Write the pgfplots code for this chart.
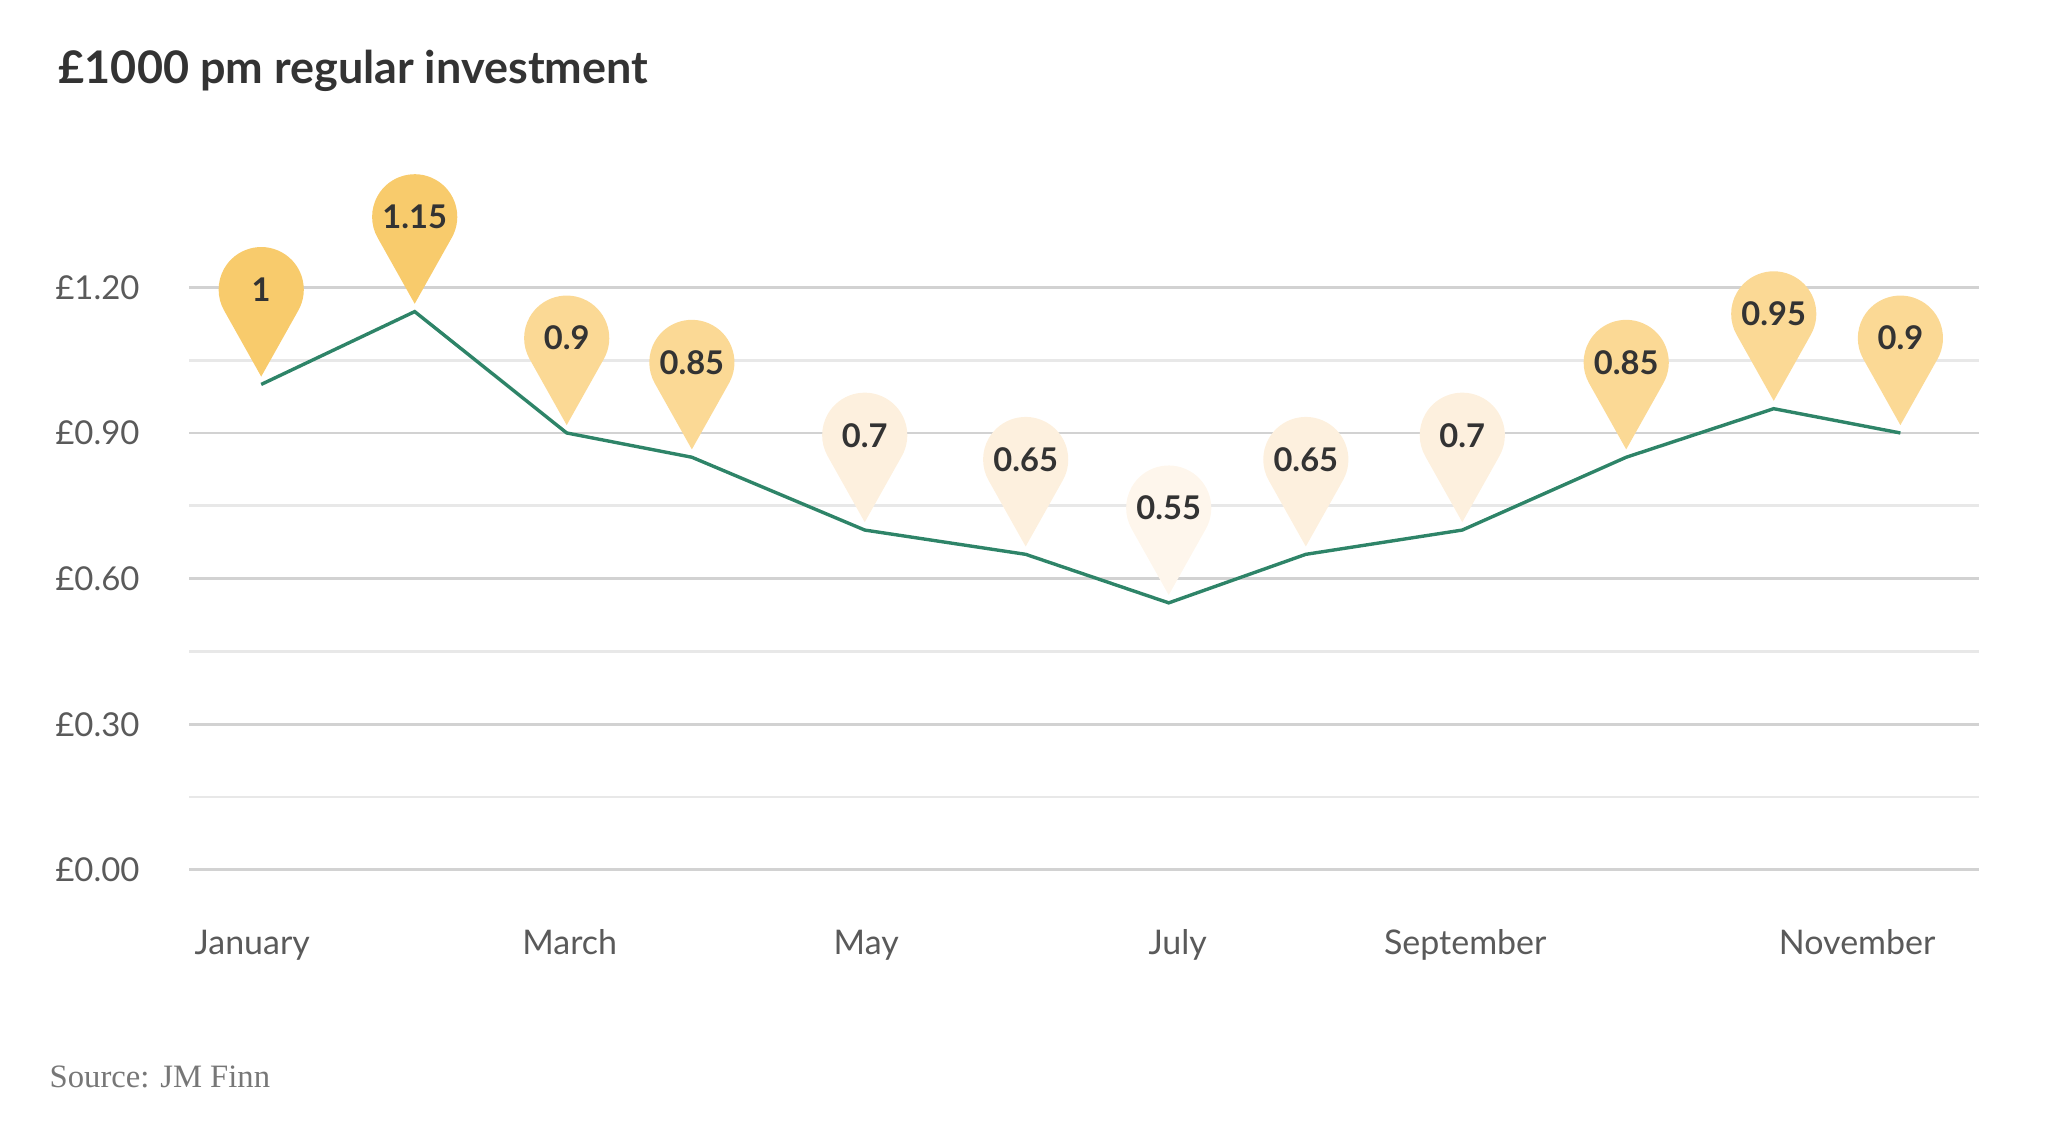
\documentclass[border=0pt]{standalone}
\usepackage{pgfplots}
\usepackage{pgfplotstable}
\pgfplotsset{compat=1.18}
\usepackage{fontspec}
\setmainfont{Lato}
\newfontfamily\srcfont{Liberation Serif}

\definecolor{pinA}{HTML}{F8CB6C}
\definecolor{pinB}{HTML}{FBD995}
\definecolor{pinC}{HTML}{FDF0DE}
\definecolor{pinD}{HTML}{FEF6EC}
\definecolor{linegreen}{HTML}{2E8468}
\definecolor{gridmaj}{HTML}{D2D2D2}
\definecolor{gridmin}{HTML}{E8E8E8}
\definecolor{titlegray}{HTML}{333333}
\definecolor{tickgray}{HTML}{5A5A5A}
\definecolor{labtext}{HTML}{333333}
\definecolor{srcgray}{HTML}{777777}

% teardrop pin, tip just above the data point
\pgfdeclareplotmark{pin}{%
  \pgfpathmoveto{\pgfpoint{0pt}{3pt}}%
  \pgfpathlineto{\pgfpointadd{\pgfpoint{0pt}{36.3pt}}{\pgfpointpolar{-29.2}{16.3pt}}}%
  \pgfpatharc{-29.2}{209.2}{16.3pt}%
  \pgfpathclose
  \pgfusepathqfill}

\pgfplotstableread{
x     y    c
0     1    a
1.03  1.15 a
2.05  0.9  b
2.89  0.85 b
4.05  0.7  c
5.13  0.65 c
6.09  0.55 d
7.01  0.65 c
8.06  0.7  c
9.16  0.85 b
10.15 0.95 b
11    0.9  b
}\pinsdata

\begin{document}
\begin{tikzpicture}
\path[use as bounding box] (-72.5pt,-102.5pt) rectangle (711.5pt,333pt);
\begin{axis}[
    at={(0,0)}, anchor=south west,
    width=685pt, height=223pt, scale only axis=true,
    xmin=-0.482, xmax=11.526, ymin=0, ymax=1.2,
    clip=false,
    axis lines*=left, axis line style={draw=none},
    major tick length=0pt, minor tick length=0pt,
    xtick={-0.06,2.07,4.06,6.15,8.08,10.71},
    xticklabels={January,March,May,July,September,November},
    ytick={0,0.3,0.6,0.9,1.2},
    minor ytick={0.15,0.45,0.75,1.05},
    ymajorgrids, yminorgrids,
    major grid style={color=gridmaj, line width=1.1pt},
    minor grid style={color=gridmin, line width=1.1pt},
    /pgf/number format/assume math mode=true,
    yticklabel={£\pgfmathprintnumber[fixed, fixed zerofill, precision=2]{\tick}},
    yticklabel style={anchor=west, inner sep=0pt, xshift=-51.5pt, text=tickgray, font=\fontsize{12.6}{14}\selectfont},
    xticklabel style={anchor=base, inner sep=0pt, yshift=-32.5pt, text=tickgray, font=\fontsize{13}{15}\selectfont},
]
\addplot[color=linegreen, line width=1.3pt, mark=none] table[x=x, y=y] {\pinsdata};
\addplot[scatter, only marks, mark=pin,
    point meta=explicit symbolic,
    scatter/classes={a={mark=pin, pinA}, b={mark=pin, pinB}, c={mark=pin, pinC}, d={mark=pin, pinD}},
] table[x=x, y=y, meta=c] {\pinsdata};
\addplot[only marks, mark=none, point meta=y,
    nodes near coords,
    nodes near coords style={anchor=center, yshift=36.3pt, text=labtext, font=\bfseries\fontsize{12.5}{14}\selectfont},
] table[x=x, y=y] {\pinsdata};
\end{axis}
\node[anchor=base west, text=titlegray, font=\bfseries\fontsize{17.2}{20}\selectfont] at (-53.5pt,301pt) {£1000 pm regular investment};
\node[anchor=base west, text=srcgray, font=\srcfont\fontsize{12.5}{14}\selectfont] at (-57pt,-83.5pt) {Source: JM Finn};
\end{tikzpicture}
\end{document}
